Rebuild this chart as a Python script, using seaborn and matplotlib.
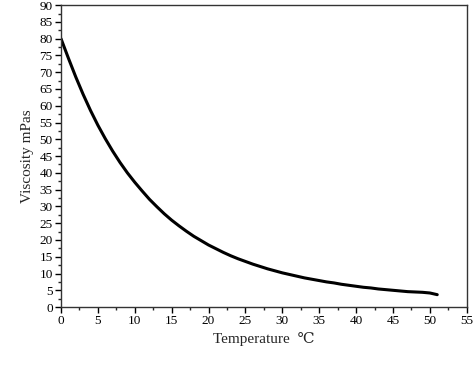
import matplotlib
matplotlib.use("Agg")
import matplotlib.pyplot as plt
from matplotlib.ticker import MultipleLocator
import seaborn as sns
import pandas as pd

temperature = list(range(0, 52))
viscosity = [80, 74.2, 68.6, 63.4, 58.6, 54.2, 50.2, 46.5, 43.1, 40.0,
             37.2, 34.6, 32.1, 29.9, 27.8, 25.9, 24.2, 22.6, 21.1, 19.8,
             18.5, 17.4, 16.3, 15.3, 14.4, 13.6, 12.8, 12.1, 11.4, 10.8,
             10.2, 9.7, 9.2, 8.7, 8.3, 7.9, 7.5, 7.2, 6.8, 6.5,
             6.2, 5.9, 5.7, 5.4, 5.2, 5.0, 4.8, 4.6, 4.5, 4.4,
             4.2, 3.7]
x_ticks = [0, 5, 10, 15, 20, 25, 30, 35, 40, 45, 50, 55]
y_ticks = [0, 5, 10, 15, 20, 25, 30, 35, 40, 45, 50, 55, 60, 65, 70, 75, 80, 85, 90]

sns.set_style("ticks")
plt.rcParams['font.family'] = ['Liberation Serif', 'DejaVu Serif']

df = pd.DataFrame({"T": temperature, "V": viscosity})
fig = plt.figure(figsize=(4.74, 3.66), dpi=100)
ax = fig.add_axes([0.1287, 0.161, 0.856, 0.825])
sns.lineplot(data=df, x="T", y="V", ax=ax, color="black", linewidth=2.2)

ax.set_xlim(0, 55)
ax.set_ylim(0, 90)
ax.set_xticks(x_ticks)
ax.set_yticks(y_ticks)
ax.xaxis.set_minor_locator(MultipleLocator(2.5))
ax.yaxis.set_minor_locator(MultipleLocator(2.5))
ax.tick_params(axis="both", which="major", direction="out", length=4, width=1,
               labelsize=9.5, pad=2, colors="black")
ax.tick_params(axis="both", which="minor", direction="out", length=2.5, width=1)
ax.set_xlabel("Temperature  \u2103", fontsize=11, labelpad=3)
ax.set_ylabel("Viscosity mPas", fontsize=11, labelpad=4)
for s in ax.spines.values():
    s.set_color("#333333")
    s.set_linewidth(1)

fig.savefig("out.png", dpi=100)
